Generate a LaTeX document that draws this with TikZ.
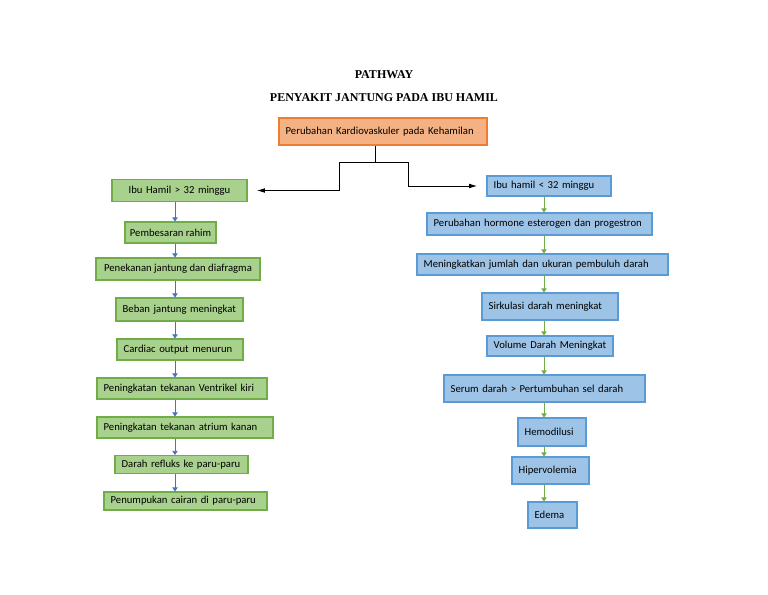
\documentclass[tikz,border=0pt]{standalone}
\usepackage{fontspec}
\setmainfont{Liberation Serif}
\newfontfamily\boxfont{Carlito}
\usetikzlibrary{arrows.meta}
\definecolor{Peach}{HTML}{F4B183}
\definecolor{PeachLine}{HTML}{ED7D31}
\definecolor{Leaf}{HTML}{A9D18E}
\definecolor{LeafLine}{HTML}{70AD47}
\definecolor{Sky}{HTML}{9DC3E6}
\definecolor{SkyLine}{HTML}{5B9BD5}
\definecolor{Cobalt}{HTML}{4472C4}

\begin{document}
\begin{tikzpicture}[x=0.75pt,y=-0.75pt,
  every node/.style={font=\boxfont\fontsize{8}{9.5}\selectfont},
  box/.style={draw,line width=0.8pt,inner xsep=5pt,inner ysep=0pt,align=left},
  orangebox/.style={box,fill=Peach,draw=PeachLine},
  greenbox/.style={box,fill=Leaf,draw=LeafLine},
  bluebox/.style={box,fill=Sky,draw=SkyLine},
  heading/.style={font=\bfseries\fontsize{9}{11}\selectfont},
  split/.style={line width=0.6pt,-{Latex[length=6pt,width=3.5pt]},shorten >=7pt},
  leftlink/.style={Cobalt,line width=0.5pt,-{Triangle[length=3pt,width=4pt]}},
  rightlink/.style={LeafLine,line width=0.5pt,-{Triangle[length=3pt,width=4pt]}}]
  \useasboundingbox (0,0) rectangle (768,594);

  % judul
  \node[heading] (title) at (384,75) {PATHWAY};
  \node[heading] (subtitle) at (384,98) {PENYAKIT JANTUNG PADA IBU HAMIL};
  \node[orangebox,text width=146pt,minimum height=20.25pt] (top) at (383,131.5) {Perubahan Kardiovaskuler pada Kehamilan};

  % cabang kiri
  \node[greenbox,align=center,text width=91.25pt,minimum height=16.5pt] (L1) at (179.5,190.5) {Ibu Hamil > 32 minggu};
  \node[greenbox,inner xsep=2pt,minimum width=68.25pt,minimum height=15.75pt] (L2) at (170.5,232.5) {Pembesaran rahim};
  \node[greenbox,inner xsep=2pt,minimum width=123pt,minimum height=16.5pt] (L3) at (178,269) {Penekanan jantung dan diafragma};
  \node[greenbox,text width=85.25pt,minimum height=17.25pt] (L4) at (179.5,309.5) {Beban jantung meningkat};
  \node[greenbox,text width=84.5pt,minimum height=15.75pt] (L5) at (180,349.5) {Cardiac output menurun};
  \node[greenbox,text width=117.5pt,minimum height=15.75pt] (L6) at (182,388.5) {Peningkatan tekanan Ventrikel kiri};
  \node[greenbox,text width=122pt,minimum height=15.75pt] (L7) at (185,427.5) {Peningkatan tekanan atrium kanan};
  \node[greenbox,text width=89.75pt,minimum height=13.5pt] (L8) at (181.5,464.5) {Darah refluks ke paru-paru};
  \node[greenbox,text width=112.25pt,minimum height=13.5pt] (L9) at (185.5,501) {Penumpukan cairan di paru-paru};

  % cabang kanan
  \node[bluebox,text width=83pt,minimum height=15pt] (R1) at (549,186) {Ibu hamil < 32 minggu};
  \node[bluebox,text width=158.75pt,minimum height=16.5pt] (R2) at (539.5,224) {Perubahan hormone esterogen dan progestron};
  \node[bluebox,text width=178.25pt,minimum height=15.75pt] (R3) at (542.5,264.5) {Meningkatkan jumlah dan ukuran pembuluh darah};
  \node[bluebox,text width=92pt,minimum height=20.25pt] (R4) at (550,306.5) {Sirkulasi darah meningkat};
  \node[bluebox,text width=84.5pt,minimum height=15pt] (R5) at (550,346) {Volume Darah Meningkat};
  \node[bluebox,text width=140.75pt,minimum height=20.25pt] (R6) at (544.5,388.5) {Serum darah > Pertumbuhan sel darah};
  \node[bluebox,text width=41pt,minimum height=21pt] (R7) at (552,432) {Hemodilusi};
  \node[bluebox,text width=47.75pt,minimum height=20.25pt] (R8) at (550.5,470.5) {Hipervolemia};
  \node[bluebox,text width=26.75pt,minimum height=19.5pt] (R9) at (552.5,515) {Edema};

  % percabangan
  \coordinate (fork) at (375,162);
  \coordinate (lbend) at (339,162);
  \coordinate (rbend) at (408,162);
  \draw[line width=0.6pt] (fork |- top.south) -- (fork);
  \draw[split] (fork) -- (lbend) |- (L1.east);
  \draw[split] (fork) -- (rbend) |- (R1.west);

  % panah alur
  \coordinate (lx) at (175,0);
  \coordinate (rx) at (544,0);
  \foreach \a/\b in {L1/L2,L2/L3,L3/L4,L4/L5,L5/L6,L6/L7,L7/L8,L8/L9}
    \draw[leftlink] (\a.south -| lx) -- (\b.north -| lx);
  \foreach \a/\b in {R1/R2,R2/R3,R3/R4,R4/R5,R5/R6,R6/R7,R7/R8,R8/R9}
    \draw[rightlink] (\a.south -| rx) -- (\b.north -| rx);
\end{tikzpicture}
\end{document}
